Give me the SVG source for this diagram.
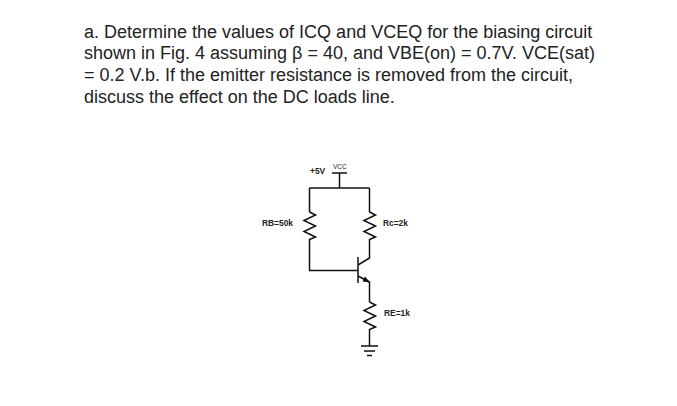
<svg xmlns="http://www.w3.org/2000/svg" width="677" height="406" viewBox="0 0 677 406">
<style>
.q{font:18px "Liberation Sans",Arial,sans-serif;fill:#222}
.l{font:bold 8.400px "Liberation Sans",Arial,sans-serif;fill:#222}
.s{font:6.500px "Liberation Sans",Arial,sans-serif;fill:#222}
.w{fill:none;stroke:#111;stroke-width:1.500}
</style>
<rect width="677" height="406" fill="#fff"/>
<g id="question">
<text class="q" x="84" y="37.500">a. Determine the values of ICQ and VCEQ for the biasing circuit</text>
<text class="q" x="84" y="59">shown in Fig. 4 assuming β = 40, and VBE(on) = 0.7V. VCE(sat)</text>
<text class="q" x="84" y="81">= 0.2 V.b. If the emitter resistance is removed from the circuit,</text>
<text class="q" x="84" y="102.500">discuss the effect on the DC loads line.</text>
</g>
<g id="connectors" class="w">
<path d="M339.500 173V188M309.500 188H369.500M309.500 188V212M369.500 188V212M309.500 239V270.500H358M369.500 239V258L358 265M358 276L369.500 282V302M369.500 329V346"/>
</g>
<g id="vcc"><path class="w" d="M332 173H347"/><text class="l" x="310" y="174">+5V</text><text class="s" x="333" y="169">VCC</text></g>
<g id="rb"><path class="w" d="M309.500 212L315.500 215L304 220.500L315.500 226L304 231.500L315.500 237L309.500 239.500"/><text class="l" x="262" y="226">RB=50k</text></g>
<g id="rc"><path class="w" d="M369.500 212L375.500 215L364 220.500L375.500 226L364 231.500L375.500 237L369.500 239.500"/><text class="l" x="383" y="226">Rc=2k</text></g>
<g id="transistor"><path class="w" d="M358 257V283"/><path d="M370 282.500L362.500 281.500L365 276.500Z" fill="#111"/></g>
<g id="re"><path class="w" d="M369.500 302L375.500 305L364 310.500L375.500 316L364 321.500L375.500 327L369.500 329.500"/><text class="l" x="384" y="316">RE=1k</text></g>
<g id="ground"><path class="w" d="M361 346H378M364 351H375M367 355.500H372"/></g>
</svg>
